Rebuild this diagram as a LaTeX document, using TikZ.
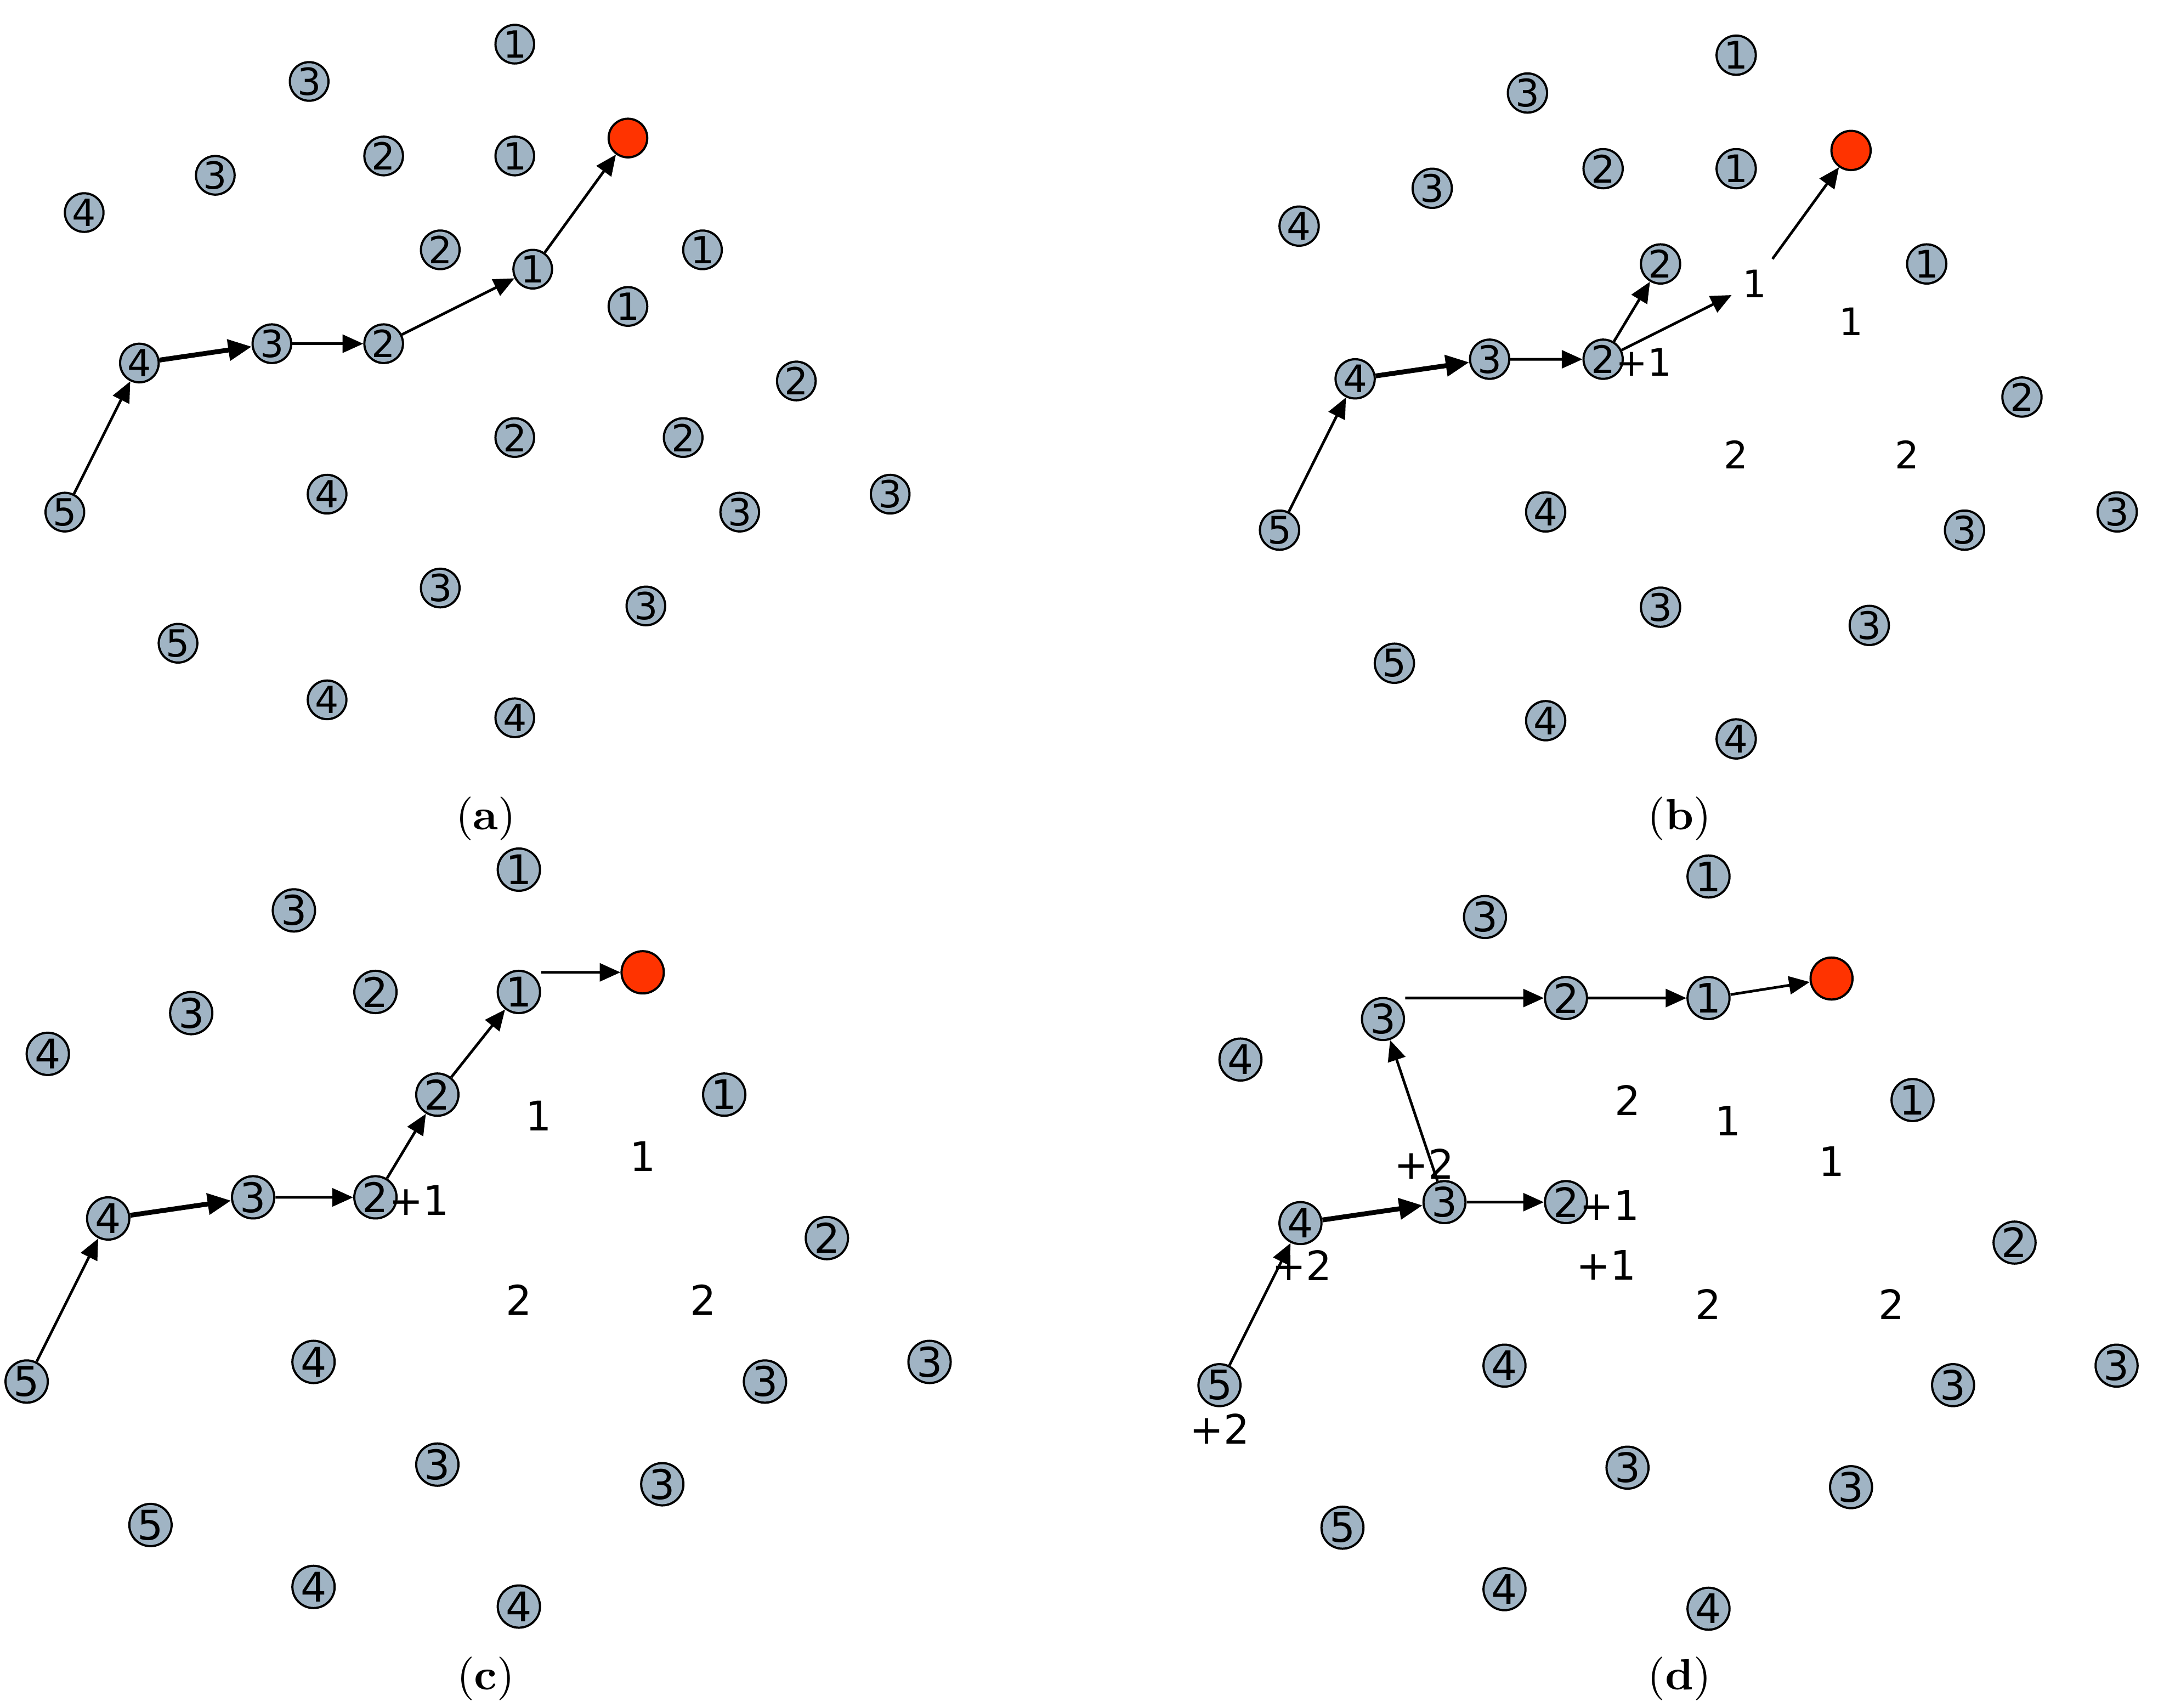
\documentclass[tikz,border=0pt]{standalone}
\usepackage{fontspec}
\newfontfamily\valfont{DejaVu Sans}
\usetikzlibrary{arrows.meta}
\definecolor{nodeblue}{RGB}{160,180,196}
\definecolor{goalred}{RGB}{255,51,0}
\newcommand{\valsize}{\valfont\fontsize{7.7}{9}\selectfont}
\begin{document}
\begin{tikzpicture}[main node/.style={circle,draw,fill=nodeblue,line width=.45pt,minimum size=.28cm,inner sep=0pt,font=\valsize},
goal node/.style={circle,draw,fill=goalred,line width=.45pt,minimum size=.28cm,inner sep=0pt},
val node/.style={inner sep=2pt,font=\valsize},
move arrow/.style={-{Triangle[length=.15cm,width=.13cm]},line width=.55pt},
big arrow/.style={-{Triangle[length=.17cm,width=.15cm]},line width=1pt},
caption/.style={font=\fontsize{9}{11}\selectfont}]
\useasboundingbox (0,0) rectangle (15.68,12.37);
%(a)
\begin{scope}[shift={(0,12.37)}]
\node[main node] (a1) at (3.73,-0.32) {1};
\node[main node] (a2) at (2.24,-0.59) {3};
\node[main node] (a3) at (2.78,-1.13) {2};
\node[main node] (a4) at (3.73,-1.13) {1};
\node[goal node] (a5) at (4.55,-1.00) {};
\node[main node] (a6) at (1.56,-1.27) {3};
\node[main node] (a7) at (0.61,-1.54) {4};
\node[main node] (a8) at (3.19,-1.81) {2};
\node[main node] (a9) at (3.86,-1.95) {1};
\node[main node] (a10) at (5.09,-1.81) {1};
\node[main node] (a11) at (4.55,-2.22) {1};
\node[main node] (a12) at (1.01,-2.63) {4};
\node[main node] (a13) at (1.97,-2.49) {3};
\node[main node] (a14) at (2.78,-2.49) {2};
\node[main node] (a15) at (5.77,-2.76) {2};
\node[main node] (a16) at (3.73,-3.17) {2};
\node[main node] (a17) at (4.95,-3.17) {2};
\node[main node] (a18) at (2.37,-3.58) {4};
\node[main node] (a19) at (5.36,-3.71) {3};
\node[main node] (a20) at (6.45,-3.58) {3};
\node[main node] (a21) at (0.47,-3.71) {5};
\node[main node] (a22) at (3.19,-4.26) {3};
\node[main node] (a23) at (4.68,-4.39) {3};
\node[main node] (a24) at (1.29,-4.66) {5};
\node[main node] (a25) at (2.37,-5.07) {4};
\node[main node] (a26) at (3.73,-5.20) {4};
\draw[move arrow] (a21) -- (a12);
\draw[big arrow] (a12) -- (a13);
\draw[move arrow] (a13) -- (a14);
\draw[move arrow] (a14) -- (a9);
\draw[move arrow] (a9) -- (a5);
\end{scope}
%(b)
\begin{scope}[shift={(8.794,12.295)},scale=1.015,transform shape]
\node[main node] (b1) at (3.73,-0.32) {1};
\node[main node] (b2) at (2.24,-0.59) {3};
\node[main node] (b3) at (2.78,-1.13) {2};
\node[main node] (b4) at (3.73,-1.13) {1};
\node[goal node] (b5) at (4.55,-1.00) {};
\node[main node] (b6) at (1.56,-1.27) {3};
\node[main node] (b7) at (0.61,-1.54) {4};
\node[main node] (b8) at (3.19,-1.81) {2};
\node[val node] (b9) at (3.86,-1.95) {1};
\node[main node] (b10) at (5.09,-1.81) {1};
\node[val node] (b11) at (4.55,-2.22) {1};
\node[main node] (b12) at (1.01,-2.63) {4};
\node[main node] (b13) at (1.97,-2.49) {3};
\node[main node] (b14) at (2.78,-2.49) {2};
\node[val node] (b14v) at (3.07,-2.51) {+1};
\node[main node] (b15) at (5.77,-2.76) {2};
\node[val node] (b16) at (3.73,-3.17) {2};
\node[val node] (b17) at (4.95,-3.17) {2};
\node[main node] (b18) at (2.37,-3.58) {4};
\node[main node] (b19) at (5.36,-3.71) {3};
\node[main node] (b20) at (6.45,-3.58) {3};
\node[main node] (b21) at (0.47,-3.71) {5};
\node[main node] (b22) at (3.19,-4.26) {3};
\node[main node] (b23) at (4.68,-4.39) {3};
\node[main node] (b24) at (1.29,-4.66) {5};
\node[main node] (b25) at (2.37,-5.07) {4};
\node[main node] (b26) at (3.73,-5.20) {4};
\draw[move arrow] (b21) -- (b12);
\draw[big arrow] (b12) -- (b13);
\draw[move arrow] (b13) -- (b14);
\draw[move arrow] (b14) -- (b8);
\draw[move arrow] (b14) -- (b9);
\draw[move arrow] (b9) -- (b5);
\end{scope}
%(c)
\begin{scope}[shift={(-0.321,6.42)},scale=1.094,transform shape]
\node[main node] (c1) at (3.73,-0.32) {1};
\node[main node] (c2) at (2.24,-0.59) {3};
\node[main node] (c3) at (2.78,-1.13) {2};
\node[main node] (c4) at (3.73,-1.13) {1};
\node[goal node] (c5) at (4.55,-1.00) {};
\node[main node] (c6) at (1.56,-1.27) {3};
\node[main node] (c7) at (0.61,-1.54) {4};
\node[main node] (c8) at (3.19,-1.81) {2};
\node[val node] (c9) at (3.86,-1.95) {1};
\node[main node] (c10) at (5.09,-1.81) {1};
\node[val node] (c11) at (4.55,-2.22) {1};
\node[main node] (c12) at (1.01,-2.63) {4};
\node[main node] (c13) at (1.97,-2.49) {3};
\node[main node] (c14) at (2.78,-2.49) {2};
\node[val node] (c14v) at (3.07,-2.51) {+1};
\node[main node] (c15) at (5.77,-2.76) {2};
\node[val node] (c16) at (3.73,-3.17) {2};
\node[val node] (c17) at (4.95,-3.17) {2};
\node[main node] (c18) at (2.37,-3.58) {4};
\node[main node] (c19) at (5.36,-3.71) {3};
\node[main node] (c20) at (6.45,-3.58) {3};
\node[main node] (c21) at (0.47,-3.71) {5};
\node[main node] (c22) at (3.19,-4.26) {3};
\node[main node] (c23) at (4.68,-4.39) {3};
\node[main node] (c24) at (1.29,-4.66) {5};
\node[main node] (c25) at (2.37,-5.07) {4};
\node[main node] (c26) at (3.73,-5.20) {4};
\draw[move arrow] (c21) -- (c12);
\draw[big arrow] (c12) -- (c13);
\draw[move arrow] (c13) -- (c14);
\draw[move arrow] (c14) -- (c8);
\draw[move arrow] (c8) -- (c4);
\draw[move arrow] (c4.east |- c5) -- (c5);
\end{scope}
%(d)
\begin{scope}[shift={(8.325,6.368)},scale=1.087,transform shape]
\node[main node] (d1) at (3.73,-0.32) {1};
\node[main node] (d2) at (2.24,-0.59) {3};
\node[main node] (d3) at (2.78,-1.13) {2};
\node[main node] (d4) at (3.73,-1.13) {1};
\node[goal node] (d5) at (4.55,-1.00) {};
\node[main node] (d6) at (1.56,-1.27) {3};
\node[main node] (d7) at (0.61,-1.54) {4};
\node[val node] (d8) at (3.19,-1.81) {2};
\node[val node] (d9) at (3.86,-1.95) {1};
\node[main node] (d10) at (5.09,-1.81) {1};
\node[val node] (d11) at (4.55,-2.22) {1};
\node[main node] (d12) at (1.01,-2.63) {4};
\node[val node] (d12v) at (1.02,-2.91) {+2};
\node[val node] (d13v) at (1.835,-2.234) {+2};
\node[main node] (d13) at (1.97,-2.49) {3};
\node[main node] (d14) at (2.78,-2.49) {2};
\node[val node] (d14v) at (3.07,-2.51) {+1};
\node[val node] (d14w) at (3.05,-2.91) {+1};
\node[main node] (d15) at (5.77,-2.76) {2};
\node[val node] (d16) at (3.73,-3.17) {2};
\node[val node] (d17) at (4.95,-3.17) {2};
\node[main node] (d18) at (2.37,-3.58) {4};
\node[main node] (d19) at (5.36,-3.71) {3};
\node[main node] (d20) at (6.45,-3.58) {3};
\node[main node] (d21) at (0.47,-3.71) {5};
\node[val node] (d21v) at (0.47,-4.00) {+2};
\node[main node] (d22) at (3.19,-4.26) {3};
\node[main node] (d23) at (4.68,-4.39) {3};
\node[main node] (d24) at (1.29,-4.66) {5};
\node[main node] (d25) at (2.37,-5.07) {4};
\node[main node] (d26) at (3.73,-5.20) {4};
\draw[move arrow] (d21) -- (d12);
\draw[big arrow] (d12) -- (d13);
\draw[move arrow] (d13) -- (d14);
\draw[move arrow] (d13) -- (d6);
\draw[move arrow] (d6.east |- d3) -- (d3);
\draw[move arrow] (d3) -- (d4);
\draw[move arrow] (d4) -- (d5);
\end{scope}
\node[caption] (capa) at (3.52,6.44) {(\textbf{a})};
\node[caption] (capb) at (12.17,6.44) {(\textbf{b})};
\node[caption] (capc) at (3.52,0.21) {(\textbf{c})};
\node[caption] (capd) at (12.17,0.21) {(\textbf{d})};
\end{tikzpicture}
\end{document}
